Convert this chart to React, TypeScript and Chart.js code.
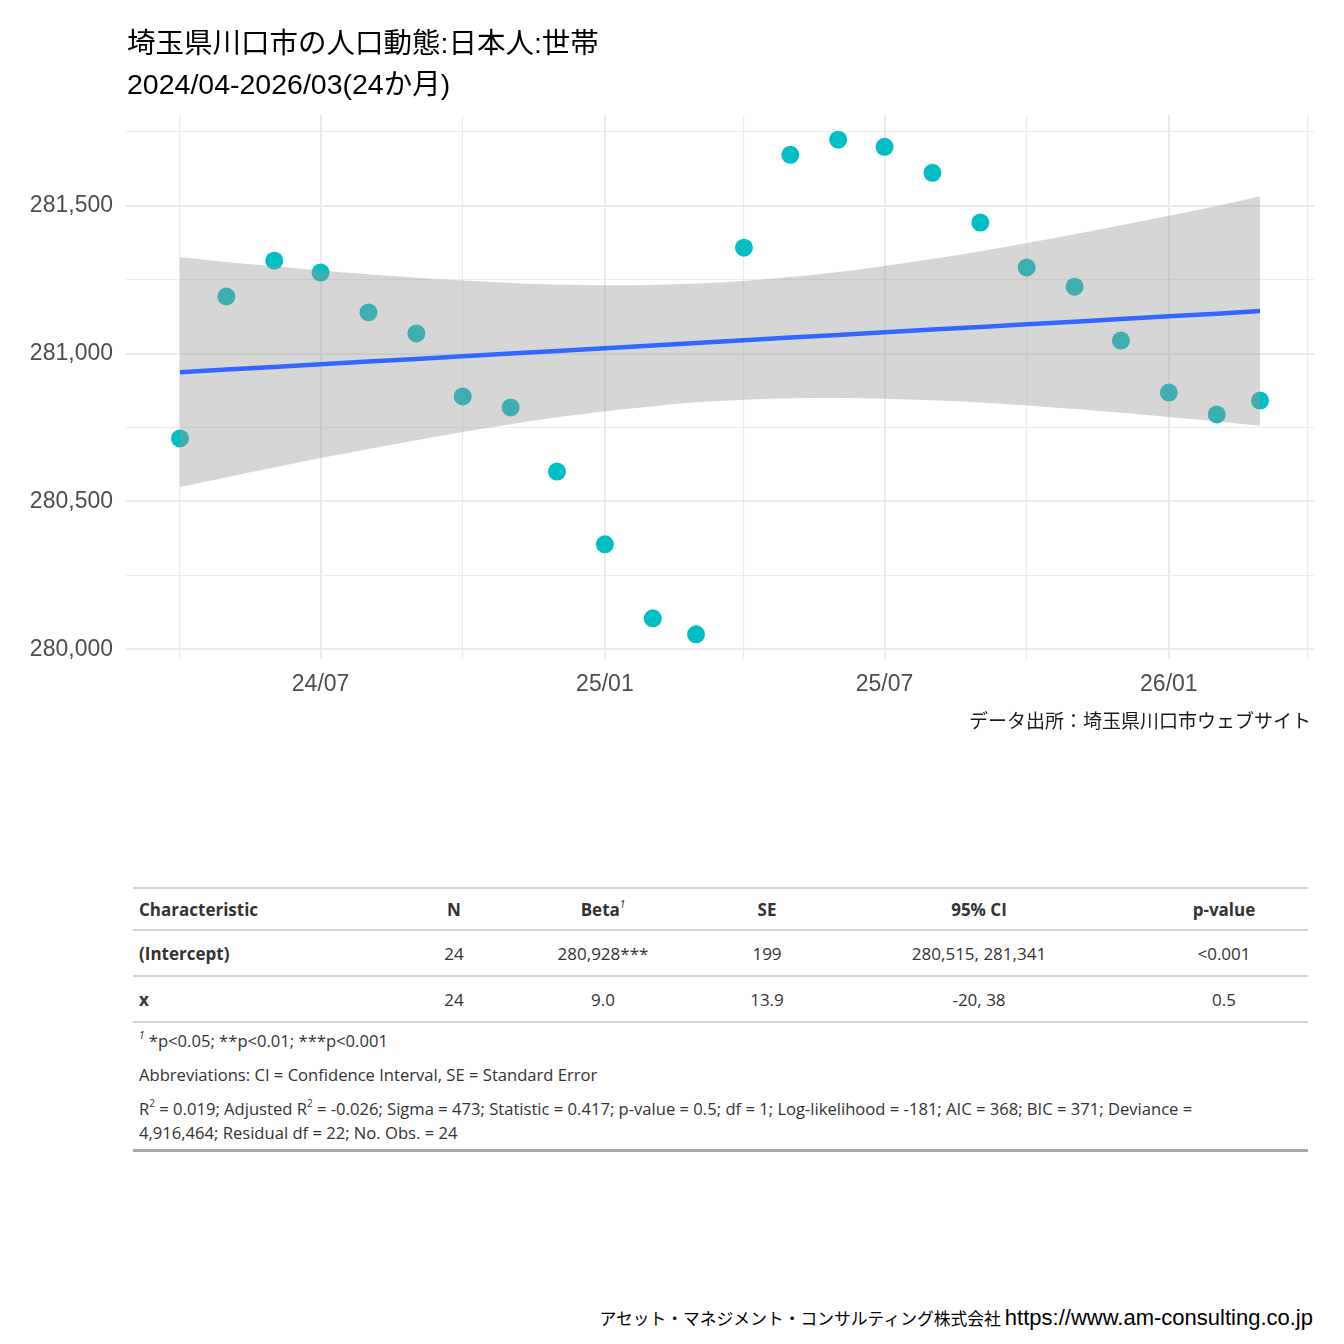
import React, { useEffect, useRef } from "react";
import { Chart, registerables } from "chart.js";

Chart.register(...registerables);

// Monthly household counts (Japanese residents), Kawaguchi City
const months = [
  "2024-04", "2024-05", "2024-06", "2024-07", "2024-08", "2024-09",
  "2024-10", "2024-11", "2024-12", "2025-01", "2025-02", "2025-03",
  "2025-04", "2025-05", "2025-06", "2025-07", "2025-08", "2025-09",
  "2025-10", "2025-11", "2025-12", "2026-01", "2026-02", "2026-03",
];
const households = [
  280713, 281193, 281314, 281274, 281139, 281068,
  280855, 280818, 280601, 280355, 280105, 280051,
  281358, 281672, 281723, 281699, 281611, 281443,
  281291, 281226, 281044, 280868, 280794, 280841,
];

// Axis breaks
const xMajorTicks = ["2024-07", "2025-01", "2025-07", "2026-01"];
const xMajorLabels = ["24/07", "25/01", "25/07", "26/01"];
const xMinorTicks = ["2024-04", "2024-10", "2025-04", "2025-10", "2026-04"];
const yMajorTicks = [280000, 280500, 281000, 281500];
const yMinorTicks = [280250, 280750, 281250, 281750];

// Linear model y ~ x (x = 1..24), coefficients as reported in the table
const intercept = 280928;
const slope = 9.0;
const sigma = 473;
const nObs = 24;
const tCrit = 2.074; // t(0.975, df = 22)

// Regression table contents
const tableHeaders = ["Characteristic", "N", "Beta", "SE", "95% CI", "p-value"];
const tableRows = [
  ["(Intercept)", "24", "280,928***", "199", "280,515, 281,341", "<0.001"],
  ["x", "24", "9.0", "13.9", "-20, 38", "0.5"],
];
const colWidths = [285, 72, 226, 102, 322, 168];

const dayOf = (ym: string) => {
  const [y, m] = ym.split("-").map(Number);
  return (Date.UTC(y, m - 1, 1) - Date.UTC(2024, 3, 1)) / 86400000;
};

const fmt = (v: number) => v.toLocaleString("en-US");

function PlotCanvas() {
  const ref = useRef<HTMLCanvasElement | null>(null);

  useEffect(() => {
    if (!ref.current) return;
    const xs = months.map(dayOf);
    const pts = xs.map((x, i) => ({ x, y: households[i] }));

    const xbar = (nObs + 1) / 2;
    let sxx = 0;
    for (let i = 1; i <= nObs; i++) sxx += (i - xbar) * (i - xbar);
    const fit = xs.map((x, i) => ({ x, y: intercept + slope * (i + 1) }));
    const half = xs.map((_, i) =>
      tCrit * sigma * Math.sqrt(1 / nObs + ((i + 1 - xbar) ** 2) / sxx)
    );
    const upper = fit.map((p, i) => ({ x: p.x, y: p.y + half[i] }));
    const lower = fit.map((p, i) => ({ x: p.x, y: p.y - half[i] }));

    const xSpan = xs[xs.length - 1] - xs[0];
    const ySpan = Math.max(...households) - Math.min(...households);
    const xMajorVals = xMajorTicks.map(dayOf);
    const xGrid = [...xMinorTicks.map(dayOf), ...xMajorVals].sort((a, b) => a - b);
    const yGrid = [...yMinorTicks, ...yMajorTicks].sort((a, b) => a - b);

    const tickFont = { family: '"Liberation Sans", Arial, sans-serif', size: 23 };

    const chart = new Chart(ref.current, {
      type: "scatter",
      data: {
        datasets: [
          {
            type: "line",
            label: "fit",
            data: fit,
            showLine: true,
            borderColor: "#3366FF",
            borderWidth: 4.5,
            pointRadius: 0,
            fill: false,
            order: 1,
          },
          {
            type: "line",
            label: "upper",
            data: upper,
            showLine: true,
            borderColor: "rgba(0,0,0,0)",
            borderWidth: 0,
            pointRadius: 0,
            cubicInterpolationMode: "monotone",
            fill: "+1",
            backgroundColor: "rgba(153,153,153,0.4)",
            order: 2,
          },
          {
            type: "line",
            label: "lower",
            data: lower,
            showLine: true,
            borderColor: "rgba(0,0,0,0)",
            borderWidth: 0,
            pointRadius: 0,
            cubicInterpolationMode: "monotone",
            fill: false,
            order: 2,
          },
          {
            label: "世帯",
            data: pts,
            backgroundColor: "#00BFC4",
            borderWidth: 0,
            pointRadius: 9,
            pointHoverRadius: 9,
            order: 3,
          },
        ],
      },
      options: {
        animation: false,
        responsive: false,
        events: [],
        layout: { padding: { top: 115, right: 30, left: 0, bottom: 0 } },
        plugins: {
          legend: { display: false },
          tooltip: { enabled: false },
        },
        scales: {
          x: {
            type: "linear",
            min: xs[0] - xSpan * 0.05,
            max: xs[xs.length - 1] + xSpan * 0.05,
            afterBuildTicks: (s: any) => {
              s.ticks = xGrid.map((v) => ({ value: v }));
            },
            afterFit: (s: any) => {
              s.height = 81;
            },
            border: { display: false },
            grid: {
              drawTicks: false,
              color: "#EBEBEB",
              lineWidth: (ctx: any) =>
                xMajorVals.includes(ctx.tick?.value) ? 2 : 1.1,
            },
            ticks: {
              autoSkip: false,
              maxRotation: 0,
              padding: 12,
              color: "#4D4D4D",
              font: tickFont,
              callback: (v: any) => {
                const k = xMajorVals.indexOf(Number(v));
                return k >= 0 ? xMajorLabels[k] : "";
              },
            },
          },
          y: {
            type: "linear",
            min: Math.min(...households) - ySpan * 0.05,
            max: Math.max(...households) + ySpan * 0.05,
            afterBuildTicks: (s: any) => {
              s.ticks = yGrid.map((v) => ({ value: v }));
            },
            afterFit: (s: any) => {
              s.width = 126;
            },
            border: { display: false },
            grid: {
              drawTicks: false,
              color: "#EBEBEB",
              lineWidth: (ctx: any) =>
                yMajorTicks.includes(ctx.tick?.value) ? 2 : 1.1,
            },
            ticks: {
              autoSkip: false,
              padding: 13,
              color: "#4D4D4D",
              font: tickFont,
              callback: (v: any) =>
                yMajorTicks.includes(Number(v)) ? fmt(Number(v)) : "",
            },
          },
        },
      },
    } as any);

    return () => chart.destroy();
  }, []);

  return (
    <canvas
      ref={ref}
      width={1344}
      height={740}
      style={{ position: "absolute", left: 0, top: 0, width: 1344, height: 740 }}
    />
  );
}

const cell = (i: number, bold = false): React.CSSProperties => ({
  width: colWidths[i],
  flex: "none",
  textAlign: i === 0 ? "left" : "center",
  paddingLeft: i === 0 ? 6 : 0,
  boxSizing: "border-box",
  fontWeight: bold ? 700 : 400,
  whiteSpace: "nowrap",
});

const supStyle: React.CSSProperties = {
  fontSize: 10,
  lineHeight: 0,
  verticalAlign: "baseline",
  position: "relative",
  top: "-0.8em",
};

function RegressionTable() {
  const rowStyle = (h: number): React.CSSProperties => ({
    display: "flex",
    alignItems: "center",
    height: h,
    borderBottom: "2px solid #D3D3D3",
  });
  const note: React.CSSProperties = { lineHeight: "24px", whiteSpace: "nowrap" };
  return (
    <div
      style={{
        position: "absolute",
        left: 133,
        top: 887,
        width: 1175,
        borderTop: "2px solid #D3D3D3",
        borderBottom: "3px solid #A8A8A8",
        fontFamily: '"Open Sans", "Noto Sans", sans-serif',
        color: "#333333",
        fontSize: 17,
      }}
    >
      <div style={rowStyle(40)}>
        {tableHeaders.map((h, i) => (
          <div key={h} style={cell(i, true)}>
            {h}
            {h === "Beta" ? (
              <span style={{ ...supStyle, fontStyle: "italic", fontWeight: 400 }}>1</span>
            ) : null}
          </div>
        ))}
      </div>
      {tableRows.map((r) => (
        <div key={r[0]} style={rowStyle(44)}>
          {r.map((c, i) => (
            <div key={i} style={cell(i, i === 0)}>
              {c}
            </div>
          ))}
        </div>
      ))}
      <div style={{ padding: "6px 6px 4px 6px", fontSize: 16.6 }}>
        <div style={note}>
          <span style={{ ...supStyle, fontStyle: "italic" }}>1</span> *p&lt;0.05; **p&lt;0.01; ***p&lt;0.001
        </div>
        <div style={{ ...note, marginTop: 10 }}>
          Abbreviations: CI = Confidence Interval, SE = Standard Error
        </div>
        <div style={{ ...note, marginTop: 10 }}>
          R<span style={supStyle}>2</span> = 0.019; Adjusted R<span style={supStyle}>2</span> = -0.026; Sigma = 473; Statistic = 0.417; p-value = 0.5; df = 1; Log-likelihood = -181; AIC = 368; BIC = 371; Deviance =
          <br />
          4,916,464; Residual df = 22; No. Obs. = 24
        </div>
      </div>
    </div>
  );
}

export default function App() {
  return (
    <div
      style={{
        position: "absolute",
        left: 0,
        top: 0,
        width: 1344,
        height: 1344,
        background: "#FFFFFF",
        overflow: "hidden",
      }}
    >
      <PlotCanvas />
      <div
        style={{
          position: "absolute",
          left: 127,
          top: 23,
          fontFamily: '"Liberation Sans", "Noto Sans CJK JP", sans-serif',
          fontSize: 28.5,
          lineHeight: "41px",
          color: "#000000",
          whiteSpace: "nowrap",
        }}
      >
        <div>埼玉県川口市の人口動態:日本人:世帯</div>
        <div>2024/04-2026/03(24か月)</div>
      </div>
      <div
        style={{
          position: "absolute",
          right: 33,
          top: 708,
          fontFamily: '"Noto Sans CJK JP", sans-serif',
          fontSize: 19,
          lineHeight: "24px",
          color: "#1A1A1A",
          whiteSpace: "nowrap",
        }}
      >
        データ出所：埼玉県川口市ウェブサイト
      </div>
      <RegressionTable />
      <div
        style={{
          position: "absolute",
          right: 31,
          top: 1304,
          lineHeight: "28px",
          color: "#000000",
          whiteSpace: "nowrap",
        }}
      >
        <span style={{ fontFamily: '"Noto Sans CJK JP", sans-serif', fontSize: 16.8 }}>
          アセット・マネジメント・コンサルティング株式会社
        </span>{" "}
        <span style={{ fontFamily: '"Liberation Sans", Arial, sans-serif', fontSize: 22 }}>
          https://www.am-consulting.co.jp
        </span>
      </div>
    </div>
  );
}
